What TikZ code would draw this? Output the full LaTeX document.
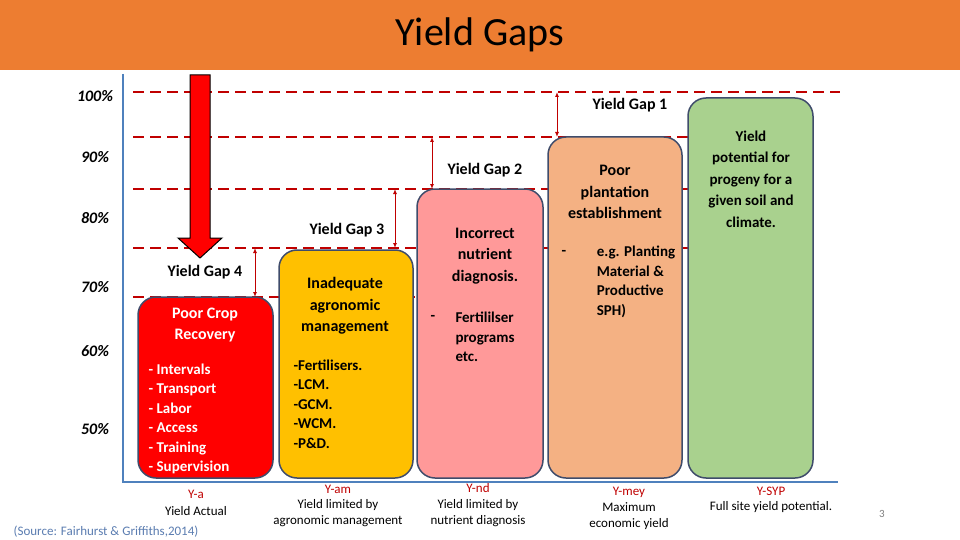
\documentclass[tikz,border=0pt]{standalone}
\usepackage{fontspec}
\setmainfont{Carlito}
\usetikzlibrary{arrows.meta}
\definecolor{ttl}{HTML}{ED7D31}
\definecolor{dred}{HTML}{C00000}
\definecolor{axisb}{HTML}{4F81BD}
\definecolor{bord}{HTML}{3F4C6B}
\definecolor{cyel}{HTML}{FFC000}
\definecolor{cpink}{HTML}{FF9999}
\definecolor{corg}{HTML}{F4B183}
\definecolor{cgrn}{HTML}{A9D18E}
\definecolor{srcb}{HTML}{5B7DB1}
\begin{document}
\begin{tikzpicture}[x=1pt,y=-1pt,
  gline/.style={draw=dred,line width=2.2pt,dash pattern=on 11pt off 6pt},
  garrow/.style={draw=dred,line width=1pt,{Latex[length=5pt,width=4pt]}-{Latex[length=5pt,width=4pt]}},
  ybox/.style={draw=bord,line width=1.5pt,rounded corners=18pt},
  btxt/.style={font=\fontsize{16}{21.5}\selectfont\bfseries,align=center},
  ltxt/.style={align=left,font=\fontsize{15}{19.5}\selectfont\bfseries},
  gtxt/.style={font=\fontsize{16}{18}\selectfont\bfseries,align=center},
  pct/.style={font=\fontsize{16}{18}\selectfont\bfseries\itshape},
  lab/.style={font=\fontsize{13}{16.5}\selectfont,align=center},
  rlab/.style={font=\fontsize{13}{14}\selectfont,text=dred}]
\useasboundingbox (0,0) rectangle (960,540);
\fill[white] (0,0) rectangle (960,540);
\fill[ttl] (0,0) rectangle (960,70);
\node[font=\fontsize{40}{42}\selectfont] (title) at (480,35) {Yield Gaps};
% axes
\draw[axisb,line width=1.5pt] (123,74) -- (123,482) -- (838,482);
% dashed lines
\draw[gline] (133,92) -- (840,92);
\draw[gline] (133,137) -- (690,137);
\draw[gline] (133,189) -- (690,189);
\draw[gline] (133,248) -- (690,248);
\draw[gline] (133,297) -- (415,297);
% percentages
\node[pct] (p100) at (95,96) {100\%};
\node[pct] (p90) at (95,157) {90\%};
\node[pct] (p80) at (95,218) {80\%};
\node[pct] (p70) at (95,287) {70\%};
\node[pct] (p60) at (95,351) {60\%};
\node[pct] (p50) at (95,429) {50\%};
% boxes
\draw[ybox,fill=red] (138,297) rectangle (273,478);
\draw[ybox,fill=cyel] (279,250) rectangle (413,478);
\draw[ybox,fill=cpink] (417,189) rectangle (543,478);
\draw[ybox,fill=corg] (548,137) rectangle (682,478);
\draw[ybox,fill=cgrn] (688,98) rectangle (813,478);
% big arrow
\fill[red,draw=black,line width=1pt] (190,75) -- (210,75) -- (210,238) -- (222,238) -- (200,258) -- (178,238) -- (190,238) -- cycle;
% gap arrows
\coordinate (g1a) at (557,92); \coordinate (g1b) at (557,137);
\coordinate (g2a) at (432,137); \coordinate (g2b) at (432,189);
\coordinate (g3a) at (395,189); \coordinate (g3b) at (395,248);
\coordinate (g4a) at (255,248); \coordinate (g4b) at (255,297);
\draw[garrow] (g1a) -- (g1b);
\draw[garrow] (g2a) -- (g2b);
\draw[garrow] (g3a) -- (g3b);
\draw[garrow] (g4a) -- (g4b);
\node[gtxt] (gap1) at (630,105) {Yield Gap 1};
\node[gtxt] (gap2) at (485,170) {Yield Gap 2};
\node[gtxt] (gap3) at (347,230) {Yield Gap 3};
\node[gtxt] (gap4) at (205,272) {Yield Gap 4};
% box texts
\node[btxt,text=white] (t1) at (205,325) {Poor Crop\\Recovery};
\node[ltxt,text=white] (t1b) at (189,419) {- Intervals\\- Transport\\- Labor\\- Access\\- Training\\- Supervision};
\node[btxt] (t2) at (345,306) {Inadequate\\agronomic\\management};
\node[ltxt] (t2b) at (328,404) {-Fertilisers.\\-LCM.\\-GCM.\\-WCM.\\-P\&D.};
\node[btxt] (t3) at (485,256) {Incorrect\\nutrient\\diagnosis.};
\node[font=\fontsize{15}{19}\selectfont\bfseries] (t3d) at (433,318) {-};
\node[ltxt] (t3b) at (485,337) {Fertililser\\programs\\etc.};
\node[btxt] (t4) at (615,192) {Poor\\plantation\\establishment};
\node[font=\fontsize{15}{19}\selectfont\bfseries] (t4d) at (564,253) {-};
\node[ltxt] (t4b) at (636,282) {e.g. Planting\\Material \&\\Productive\\SPH)};
\node[btxt,font=\fontsize{15}{21.5}\selectfont\bfseries] (t5) at (751,179) {Yield\\potential for\\progeny for a\\given soil and\\climate.};
% bottom labels
\node[rlab] (ya) at (196,494) {Y-a};
\node[lab] (ya2) at (196,511) {Yield Actual};
\node[rlab] (yam) at (338,489) {Y-am};
\node[lab] (yam2) at (338,513) {Yield limited by\\agronomic management};
\node[rlab] (ynd) at (478,488) {Y-nd};
\node[lab] (ynd2) at (478,513) {Yield limited by\\nutrient diagnosis};
\node[rlab] (ymey) at (629,492) {Y-mey};
\node[lab] (ymey2) at (629,516) {Maximum\\economic yield};
\node[rlab] (ysyp) at (771,491) {Y-SYP};
\node[lab] (ysyp2) at (771,507) {Full site yield potential.};
\node[font=\fontsize{13}{14}\selectfont,text=srcb] (src) at (106,532) {(Source: Fairhurst \& Griffiths,2014)};
\node[font=\fontsize{11}{13}\selectfont,text=gray] (pg) at (882,514) {3};
\end{tikzpicture}
\end{document}
